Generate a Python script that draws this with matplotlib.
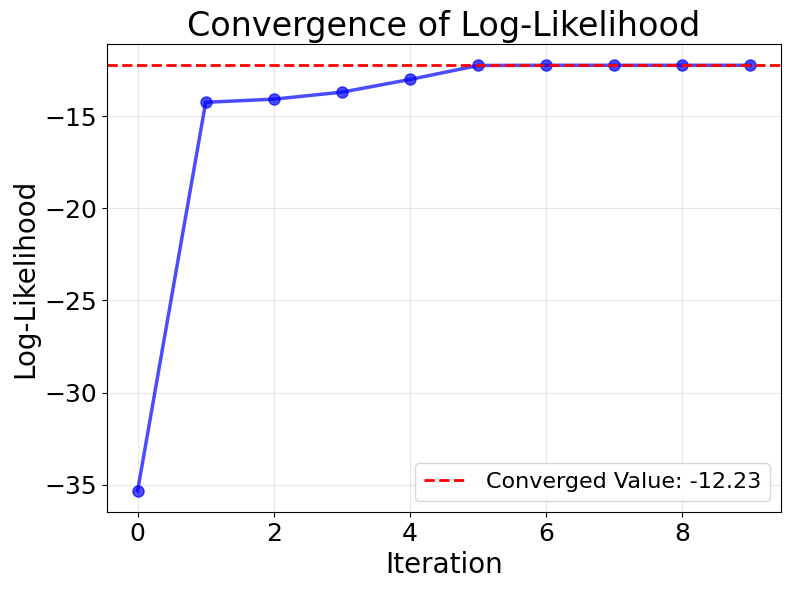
import matplotlib
matplotlib.use("Agg")
import matplotlib.pyplot as plt

iterations = [0, 1, 2, 3, 4, 5, 6, 7, 8, 9]
log_likelihood = [-35.33, -14.24, -14.07, -13.69, -13.00, -12.24, -12.23, -12.23, -12.23, -12.23]
converged = -12.23

fig, ax = plt.subplots(figsize=(7.9, 5.9), dpi=100)
ax.plot(iterations, log_likelihood, marker='o', color='blue', linewidth=2.5, markersize=8, alpha=0.7)
ax.axhline(converged, color='red', linestyle='--', linewidth=2, label=f'Converged Value: {converged:.2f}')
ax.set_title('Convergence of Log-Likelihood', fontsize=24)
ax.set_xlabel('Iteration', fontsize=20)
ax.set_ylabel('Log-Likelihood', fontsize=20)
ax.tick_params(labelsize=18)
ax.grid(True, alpha=0.3)
ax.legend(fontsize=16, loc='lower right')
fig.subplots_adjust(left=0.1354, right=0.9886, top=0.9254, bottom=0.1322)
fig.savefig('out.png')
